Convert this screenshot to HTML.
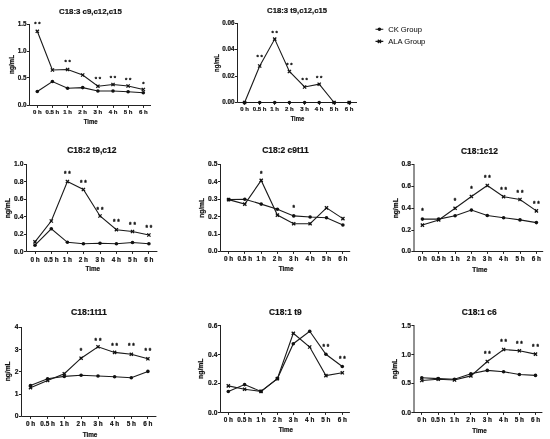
<!DOCTYPE html>
<html><head><meta charset="utf-8"><title>Fatty acid time course</title><style>
html,body{margin:0;padding:0;background:#fff;}
svg{display:block;}
text{font-family:"Liberation Sans", Arial, sans-serif;fill:#111;stroke:#111;stroke-width:0.2px;}
.b{font-weight:bold;}
.ax{stroke:#222;stroke-width:1.0;fill:none;}
.ln{stroke:#1a1a1a;stroke-width:1.1;fill:none;}
circle{fill:#111;}
.cx path{stroke:#111;stroke-width:1.3;fill:none;}
.lg{font-size:7.6px;stroke-width:0.05px;}
.st{font-weight:bold;stroke-width:0.3px;}
</style></head>
<body><svg width="550" height="439" viewBox="0 0 550 439">
<rect width="550" height="439" fill="#fff"/>
<g><path class="ax" d="M29.5 24V105.5H151"/>
<path class="ax" d="M26.9 105.5H29.5M26.9 77.5H29.5M26.9 51.5H29.5M26.9 24.5H29.5M37.5 105.5V107.9M52.5 105.5V107.9M67.5 105.5V107.9M82.5 105.5V107.9M97.5 105.5V107.9M113.5 105.5V107.9M128.5 105.5V107.9M143.5 105.5V107.9"/>
<text class="b" style="font-size:6.3px" x="26.4" y="106.95" text-anchor="end">0.0</text>
<text class="b" style="font-size:6.3px" x="26.4" y="79.75" text-anchor="end">0.5</text>
<text class="b" style="font-size:6.3px" x="26.4" y="53.15" text-anchor="end">1.0</text>
<text class="b" style="font-size:6.3px" x="26.4" y="26.25" text-anchor="end">1.5</text>
<text class="b" style="font-size:6.02px" x="37.3" y="113.97" text-anchor="middle">0 h</text>
<text class="b" style="font-size:6.02px" x="52.4" y="113.97" text-anchor="middle">0.5 h</text>
<text class="b" style="font-size:6.02px" x="67.6" y="113.97" text-anchor="middle">1 h</text>
<text class="b" style="font-size:6.02px" x="82.7" y="113.97" text-anchor="middle">2 h</text>
<text class="b" style="font-size:6.02px" x="97.9" y="113.97" text-anchor="middle">3 h</text>
<text class="b" style="font-size:6.02px" x="113" y="113.97" text-anchor="middle">4 h</text>
<text class="b" style="font-size:6.02px" x="128.1" y="113.97" text-anchor="middle">5 h</text>
<text class="b" style="font-size:6.02px" x="143.3" y="113.97" text-anchor="middle">6 h</text>
<polyline class="ln" points="37.3,91.5 52.4,81.5 67.6,88.2 82.7,87.6 97.9,91 113,91 128.1,91.8 143.3,92.7"/>
<polyline class="ln" points="37.3,31.3 52.4,70 67.6,69.5 82.7,75 97.9,86.2 113,84.5 128.1,86 143.3,89.5"/>
<circle cx="37.3" cy="91.5" r="1.8"/>
<circle cx="52.4" cy="81.5" r="1.8"/>
<circle cx="67.6" cy="88.2" r="1.8"/>
<circle cx="82.7" cy="87.6" r="1.8"/>
<circle cx="97.9" cy="91" r="1.8"/>
<circle cx="113" cy="91" r="1.8"/>
<circle cx="128.1" cy="91.8" r="1.8"/>
<circle cx="143.3" cy="92.7" r="1.8"/>
<g class="cx"><path d="M35.7 29.7L38.9 32.9M35.7 32.9L38.9 29.7"/><path d="M50.8 68.4L54 71.6M50.8 71.6L54 68.4"/><path d="M66 67.9L69.2 71.1M66 71.1L69.2 67.9"/><path d="M81.1 73.4L84.3 76.6M81.1 76.6L84.3 73.4"/><path d="M96.3 84.6L99.5 87.8M96.3 87.8L99.5 84.6"/><path d="M111.4 82.9L114.6 86.1M111.4 86.1L114.6 82.9"/><path d="M126.5 84.4L129.7 87.6M126.5 87.6L129.7 84.4"/><path d="M141.7 87.9L144.9 91.1M141.7 91.1L144.9 87.9"/></g>
<text class="st" style="font-size:5.92px;letter-spacing:1.74px" x="38.17" y="26.07" text-anchor="middle">**</text>
<text class="st" style="font-size:5.92px;letter-spacing:1.74px" x="68.47" y="64.47" text-anchor="middle">**</text>
<text class="st" style="font-size:5.92px;letter-spacing:1.74px" x="98.77" y="81.27" text-anchor="middle">**</text>
<text class="st" style="font-size:5.92px;letter-spacing:1.74px" x="113.87" y="79.87" text-anchor="middle">**</text>
<text class="st" style="font-size:5.92px;letter-spacing:1.74px" x="128.97" y="81.67" text-anchor="middle">**</text>
<text class="st" style="font-size:5.92px;letter-spacing:1.74px" x="144.17" y="86.17" text-anchor="middle">*</text>
<text class="b" style="font-size:7.7px" x="59.08" y="13.8" textLength="62.74" lengthAdjust="spacingAndGlyphs">C18:3 c9,c12,c15</text>
<text class="b" style="font-size:6.8px" x="83.73" y="123.6" textLength="13.87" lengthAdjust="spacingAndGlyphs">Time</text>
<g transform="translate(13.7 73.5) rotate(-90)"><text class="b" style="font-size:6.8px" x="-0.42" y="0" textLength="18.91" lengthAdjust="spacingAndGlyphs">ng/mL</text></g></g>
<g><path class="ax" d="M237.5 23V102.5H357"/>
<path class="ax" d="M234.9 102.5H237.5M234.9 76.5H237.5M234.9 49.5H237.5M234.9 23.5H237.5M244.5 102.5V104.9M259.5 102.5V104.9M274.5 102.5V104.9M289.5 102.5V104.9M304.5 102.5V104.9M319.5 102.5V104.9M334.5 102.5V104.9M349.5 102.5V104.9"/>
<text class="b" style="font-size:6.3px" x="234.4" y="104.45" text-anchor="end">0.00</text>
<text class="b" style="font-size:6.3px" x="234.4" y="77.95" text-anchor="end">0.02</text>
<text class="b" style="font-size:6.3px" x="234.4" y="51.45" text-anchor="end">0.04</text>
<text class="b" style="font-size:6.3px" x="234.4" y="25.25" text-anchor="end">0.06</text>
<text class="b" style="font-size:6.02px" x="244.6" y="111.37" text-anchor="middle">0 h</text>
<text class="b" style="font-size:6.02px" x="259.7" y="111.37" text-anchor="middle">0.5 h</text>
<text class="b" style="font-size:6.02px" x="274.7" y="111.37" text-anchor="middle">1 h</text>
<text class="b" style="font-size:6.02px" x="289.4" y="111.37" text-anchor="middle">2 h</text>
<text class="b" style="font-size:6.02px" x="304.6" y="111.37" text-anchor="middle">3 h</text>
<text class="b" style="font-size:6.02px" x="319.2" y="111.37" text-anchor="middle">4 h</text>
<text class="b" style="font-size:6.02px" x="334.1" y="111.37" text-anchor="middle">5 h</text>
<text class="b" style="font-size:6.02px" x="349.2" y="111.37" text-anchor="middle">6 h</text>
<polyline class="ln" points="244.6,102.5 259.7,102.5 274.7,102.5 289.4,102.5 304.6,102.5 319.2,102.5 334.1,102.5 349.2,102.5"/>
<polyline class="ln" points="244.6,102.5 259.7,66 274.7,39.1 289.4,71.5 304.6,87 319.2,84.2 334.1,102.5 349.2,102.5"/>
<circle cx="244.6" cy="102.5" r="1.8"/>
<circle cx="259.7" cy="102.5" r="1.8"/>
<circle cx="274.7" cy="102.5" r="1.8"/>
<circle cx="289.4" cy="102.5" r="1.8"/>
<circle cx="304.6" cy="102.5" r="1.8"/>
<circle cx="319.2" cy="102.5" r="1.8"/>
<circle cx="334.1" cy="102.5" r="1.8"/>
<circle cx="349.2" cy="102.5" r="1.8"/>
<g class="cx"><path d="M243 100.9L246.2 104.1M243 104.1L246.2 100.9"/><path d="M258.1 64.4L261.3 67.6M258.1 67.6L261.3 64.4"/><path d="M273.1 37.5L276.3 40.7M273.1 40.7L276.3 37.5"/><path d="M287.8 69.9L291 73.1M287.8 73.1L291 69.9"/><path d="M303 85.4L306.2 88.6M303 88.6L306.2 85.4"/><path d="M317.6 82.6L320.8 85.8M317.6 85.8L320.8 82.6"/><path d="M332.5 100.9L335.7 104.1M332.5 104.1L335.7 100.9"/><path d="M347.6 100.9L350.8 104.1M347.6 104.1L350.8 100.9"/></g>
<text class="st" style="font-size:5.92px;letter-spacing:1.74px" x="260.57" y="58.77" text-anchor="middle">**</text>
<text class="st" style="font-size:5.92px;letter-spacing:1.74px" x="275.57" y="34.77" text-anchor="middle">**</text>
<text class="st" style="font-size:5.92px;letter-spacing:1.74px" x="290.27" y="66.57" text-anchor="middle">**</text>
<text class="st" style="font-size:5.92px;letter-spacing:1.74px" x="305.47" y="82.27" text-anchor="middle">**</text>
<text class="st" style="font-size:5.92px;letter-spacing:1.74px" x="320.07" y="80.47" text-anchor="middle">**</text>
<text class="b" style="font-size:7.6px" x="267.08" y="12.8" textLength="59.93" lengthAdjust="spacingAndGlyphs">C18:3 t9,c12,c15</text>
<text class="b" style="font-size:6.6px" x="290.63" y="120.8" textLength="13.67" lengthAdjust="spacingAndGlyphs">Time</text>
<g transform="translate(219.1 71.5) rotate(-90)"><text class="b" style="font-size:6.6px" x="-0.39" y="0" textLength="17.88" lengthAdjust="spacingAndGlyphs">ng/mL</text></g></g>
<g><path class="ax" d="M26.5 164V251.5H157.4"/>
<path class="ax" d="M23.9 251.5H26.5M23.9 234.5H26.5M23.9 216.5H26.5M23.9 199.5H26.5M23.9 181.5H26.5M23.9 164.5H26.5M35.5 251.5V253.9M51.5 251.5V253.9M67.5 251.5V253.9M83.5 251.5V253.9M100.5 251.5V253.9M116.5 251.5V253.9M132.5 251.5V253.9M148.5 251.5V253.9"/>
<text class="b" style="font-size:6.7px" x="23.4" y="253.68" text-anchor="end">0.0</text>
<text class="b" style="font-size:6.7px" x="23.4" y="236.28" text-anchor="end">0.2</text>
<text class="b" style="font-size:6.7px" x="23.4" y="218.98" text-anchor="end">0.4</text>
<text class="b" style="font-size:6.7px" x="23.4" y="201.28" text-anchor="end">0.6</text>
<text class="b" style="font-size:6.7px" x="23.4" y="183.98" text-anchor="end">0.8</text>
<text class="b" style="font-size:6.7px" x="23.4" y="166.28" text-anchor="end">1.0</text>
<text class="b" style="font-size:6.4px" x="35" y="261.5" text-anchor="middle">0 h</text>
<text class="b" style="font-size:6.4px" x="51.3" y="261.5" text-anchor="middle">0.5 h</text>
<text class="b" style="font-size:6.4px" x="67.4" y="261.5" text-anchor="middle">1 h</text>
<text class="b" style="font-size:6.4px" x="83.4" y="261.5" text-anchor="middle">2 h</text>
<text class="b" style="font-size:6.4px" x="100" y="261.5" text-anchor="middle">3 h</text>
<text class="b" style="font-size:6.4px" x="116.4" y="261.5" text-anchor="middle">4 h</text>
<text class="b" style="font-size:6.4px" x="132.5" y="261.5" text-anchor="middle">5 h</text>
<text class="b" style="font-size:6.4px" x="148.9" y="261.5" text-anchor="middle">6 h</text>
<polyline class="ln" points="35,245.2 51.3,228.8 67.4,242.3 83.4,243.7 100,243.2 116.4,243.8 132.5,242.5 148.9,243.8"/>
<polyline class="ln" points="35,241.9 51.3,221 67.4,181.5 83.4,189.5 100,216 116.4,229.7 132.5,231.5 148.9,235"/>
<circle cx="35" cy="245.2" r="1.8"/>
<circle cx="51.3" cy="228.8" r="1.8"/>
<circle cx="67.4" cy="242.3" r="1.8"/>
<circle cx="83.4" cy="243.7" r="1.8"/>
<circle cx="100" cy="243.2" r="1.8"/>
<circle cx="116.4" cy="243.8" r="1.8"/>
<circle cx="132.5" cy="242.5" r="1.8"/>
<circle cx="148.9" cy="243.8" r="1.8"/>
<g class="cx"><path d="M33.4 240.3L36.6 243.5M33.4 243.5L36.6 240.3"/><path d="M49.7 219.4L52.9 222.6M49.7 222.6L52.9 219.4"/><path d="M65.8 179.9L69 183.1M65.8 183.1L69 179.9"/><path d="M81.8 187.9L85 191.1M81.8 191.1L85 187.9"/><path d="M98.4 214.4L101.6 217.6M98.4 217.6L101.6 214.4"/><path d="M114.8 228.1L118 231.3M114.8 231.3L118 228.1"/><path d="M130.9 229.9L134.1 233.1M130.9 233.1L134.1 229.9"/><path d="M147.3 233.4L150.5 236.6M147.3 236.6L150.5 233.4"/></g>
<text class="st" style="font-size:6.3px;letter-spacing:1.85px" x="68.32" y="176.46" text-anchor="middle">**</text>
<text class="st" style="font-size:6.3px;letter-spacing:1.85px" x="84.32" y="184.66" text-anchor="middle">**</text>
<text class="st" style="font-size:6.3px;letter-spacing:1.85px" x="100.92" y="211.56" text-anchor="middle">**</text>
<text class="st" style="font-size:6.3px;letter-spacing:1.85px" x="117.32" y="224.06" text-anchor="middle">**</text>
<text class="st" style="font-size:6.3px;letter-spacing:1.85px" x="133.42" y="226.86" text-anchor="middle">**</text>
<text class="st" style="font-size:6.3px;letter-spacing:1.85px" x="149.82" y="230.06" text-anchor="middle">**</text>
<text class="b" style="font-size:8.2px" x="67.15" y="153.4" textLength="49.28" lengthAdjust="spacingAndGlyphs">C18:2 t9,c12</text>
<text class="b" style="font-size:7px" x="85.43" y="271.4" textLength="14.58" lengthAdjust="spacingAndGlyphs">Time</text>
<g transform="translate(9.9 217.9) rotate(-90)"><text class="b" style="font-size:7.2px" x="-0.44" y="0" textLength="20.15" lengthAdjust="spacingAndGlyphs">ng/mL</text></g></g>
<g><path class="ax" d="M220.5 164V251.5H350.2"/>
<path class="ax" d="M217.9 251.5H220.5M217.9 234.5H220.5M217.9 216.5H220.5M217.9 199.5H220.5M217.9 181.5H220.5M217.9 164.5H220.5M228.5 251.5V253.9M244.5 251.5V253.9M261.5 251.5V253.9M277.5 251.5V253.9M293.5 251.5V253.9M310.5 251.5V253.9M326.5 251.5V253.9M342.5 251.5V253.9"/>
<text class="b" style="font-size:6.7px" x="217.4" y="253.38" text-anchor="end">0.0</text>
<text class="b" style="font-size:6.7px" x="217.4" y="236.08" text-anchor="end">0.1</text>
<text class="b" style="font-size:6.7px" x="217.4" y="218.78" text-anchor="end">0.2</text>
<text class="b" style="font-size:6.7px" x="217.4" y="201.28" text-anchor="end">0.3</text>
<text class="b" style="font-size:6.7px" x="217.4" y="183.98" text-anchor="end">0.4</text>
<text class="b" style="font-size:6.7px" x="217.4" y="166.28" text-anchor="end">0.5</text>
<text class="b" style="font-size:6.4px" x="228.6" y="261" text-anchor="middle">0 h</text>
<text class="b" style="font-size:6.4px" x="244.8" y="261" text-anchor="middle">0.5 h</text>
<text class="b" style="font-size:6.4px" x="261.2" y="261" text-anchor="middle">1 h</text>
<text class="b" style="font-size:6.4px" x="277.4" y="261" text-anchor="middle">2 h</text>
<text class="b" style="font-size:6.4px" x="293.7" y="261" text-anchor="middle">3 h</text>
<text class="b" style="font-size:6.4px" x="310.1" y="261" text-anchor="middle">4 h</text>
<text class="b" style="font-size:6.4px" x="326.5" y="261" text-anchor="middle">5 h</text>
<text class="b" style="font-size:6.4px" x="342.9" y="261" text-anchor="middle">6 h</text>
<polyline class="ln" points="228.6,199.6 244.8,199.2 261.2,204.1 277.4,209.3 293.7,215.9 310.1,217 326.5,217.7 342.9,225"/>
<polyline class="ln" points="228.6,199.6 244.8,204.1 261.2,180.4 277.4,215.1 293.7,223.7 310.1,223.7 326.5,207.9 342.9,218.6"/>
<circle cx="228.6" cy="199.6" r="1.8"/>
<circle cx="244.8" cy="199.2" r="1.8"/>
<circle cx="261.2" cy="204.1" r="1.8"/>
<circle cx="277.4" cy="209.3" r="1.8"/>
<circle cx="293.7" cy="215.9" r="1.8"/>
<circle cx="310.1" cy="217" r="1.8"/>
<circle cx="326.5" cy="217.7" r="1.8"/>
<circle cx="342.9" cy="225" r="1.8"/>
<g class="cx"><path d="M227 198L230.2 201.2M227 201.2L230.2 198"/><path d="M243.2 202.5L246.4 205.7M243.2 205.7L246.4 202.5"/><path d="M259.6 178.8L262.8 182M259.6 182L262.8 178.8"/><path d="M275.8 213.5L279 216.7M275.8 216.7L279 213.5"/><path d="M292.1 222.1L295.3 225.3M292.1 225.3L295.3 222.1"/><path d="M308.5 222.1L311.7 225.3M308.5 225.3L311.7 222.1"/><path d="M324.9 206.3L328.1 209.5M324.9 209.5L328.1 206.3"/><path d="M341.3 217L344.5 220.2M341.3 220.2L344.5 217"/></g>
<text class="st" style="font-size:6.3px;letter-spacing:1.85px" x="262.12" y="176.06" text-anchor="middle">*</text>
<text class="st" style="font-size:6.3px;letter-spacing:1.85px" x="294.62" y="210.06" text-anchor="middle">*</text>
<text class="b" style="font-size:8.2px" x="262.16" y="153.4" textLength="46.68" lengthAdjust="spacingAndGlyphs">C18:2 c9t11</text>
<text class="b" style="font-size:7px" x="278.83" y="271.4" textLength="14.69" lengthAdjust="spacingAndGlyphs">Time</text>
<g transform="translate(203.8 217.4) rotate(-90)"><text class="b" style="font-size:7.2px" x="-0.44" y="0" textLength="19.84" lengthAdjust="spacingAndGlyphs">ng/mL</text></g></g>
<g><path class="ax" d="M414 164V251.5H543.2"/>
<path class="ax" d="M411.4 251.5H414M411.4 230.5H414M411.4 208.5H414M411.4 186.5H414M411.4 164.5H414M422.5 251.5V253.9M438.5 251.5V253.9M455.5 251.5V253.9M471.5 251.5V253.9M487.5 251.5V253.9M503.5 251.5V253.9M520.5 251.5V253.9M536.5 251.5V253.9"/>
<text class="b" style="font-size:6.7px" x="410.9" y="253.38" text-anchor="end">0.0</text>
<text class="b" style="font-size:6.7px" x="410.9" y="232.08" text-anchor="end">0.2</text>
<text class="b" style="font-size:6.7px" x="410.9" y="210.28" text-anchor="end">0.4</text>
<text class="b" style="font-size:6.7px" x="410.9" y="188.48" text-anchor="end">0.6</text>
<text class="b" style="font-size:6.7px" x="410.9" y="166.28" text-anchor="end">0.8</text>
<text class="b" style="font-size:6.4px" x="422.4" y="260.9" text-anchor="middle">0 h</text>
<text class="b" style="font-size:6.4px" x="438.7" y="260.9" text-anchor="middle">0.5 h</text>
<text class="b" style="font-size:6.4px" x="455.1" y="260.9" text-anchor="middle">1 h</text>
<text class="b" style="font-size:6.4px" x="471.4" y="260.9" text-anchor="middle">2 h</text>
<text class="b" style="font-size:6.4px" x="487.3" y="260.9" text-anchor="middle">3 h</text>
<text class="b" style="font-size:6.4px" x="503.6" y="260.9" text-anchor="middle">4 h</text>
<text class="b" style="font-size:6.4px" x="520" y="260.9" text-anchor="middle">5 h</text>
<text class="b" style="font-size:6.4px" x="536.4" y="260.9" text-anchor="middle">6 h</text>
<polyline class="ln" points="422.4,219.1 438.7,219.1 455.1,215.8 471.4,210.1 487.3,215.5 503.6,217.7 520,219.9 536.4,222.6"/>
<polyline class="ln" points="422.4,225.1 438.7,219.9 455.1,208.3 471.4,196.5 487.3,185.5 503.6,196.7 520,199.5 536.4,210.9"/>
<circle cx="422.4" cy="219.1" r="1.8"/>
<circle cx="438.7" cy="219.1" r="1.8"/>
<circle cx="455.1" cy="215.8" r="1.8"/>
<circle cx="471.4" cy="210.1" r="1.8"/>
<circle cx="487.3" cy="215.5" r="1.8"/>
<circle cx="503.6" cy="217.7" r="1.8"/>
<circle cx="520" cy="219.9" r="1.8"/>
<circle cx="536.4" cy="222.6" r="1.8"/>
<g class="cx"><path d="M420.8 223.5L424 226.7M420.8 226.7L424 223.5"/><path d="M437.1 218.3L440.3 221.5M437.1 221.5L440.3 218.3"/><path d="M453.5 206.7L456.7 209.9M453.5 209.9L456.7 206.7"/><path d="M469.8 194.9L473 198.1M469.8 198.1L473 194.9"/><path d="M485.7 183.9L488.9 187.1M485.7 187.1L488.9 183.9"/><path d="M502 195.1L505.2 198.3M502 198.3L505.2 195.1"/><path d="M518.4 197.9L521.6 201.1M518.4 201.1L521.6 197.9"/><path d="M534.8 209.3L538 212.5M534.8 212.5L538 209.3"/></g>
<text class="st" style="font-size:6.3px;letter-spacing:1.85px" x="423.32" y="213.16" text-anchor="middle">*</text>
<text class="st" style="font-size:6.3px;letter-spacing:1.85px" x="456.02" y="203.16" text-anchor="middle">*</text>
<text class="st" style="font-size:6.3px;letter-spacing:1.85px" x="472.32" y="190.56" text-anchor="middle">*</text>
<text class="st" style="font-size:6.3px;letter-spacing:1.85px" x="488.22" y="180.26" text-anchor="middle">**</text>
<text class="st" style="font-size:6.3px;letter-spacing:1.85px" x="504.52" y="192.26" text-anchor="middle">**</text>
<text class="st" style="font-size:6.3px;letter-spacing:1.85px" x="520.92" y="195.16" text-anchor="middle">**</text>
<text class="st" style="font-size:6.3px;letter-spacing:1.85px" x="537.32" y="206.46" text-anchor="middle">**</text>
<text class="b" style="font-size:8.2px" x="460.95" y="153.6" textLength="36.98" lengthAdjust="spacingAndGlyphs">C18:1c12</text>
<text class="b" style="font-size:7px" x="472.33" y="271.6" textLength="14.99" lengthAdjust="spacingAndGlyphs">Time</text>
<g transform="translate(397.8 217.9) rotate(-90)"><text class="b" style="font-size:7.2px" x="-0.44" y="0" textLength="20.05" lengthAdjust="spacingAndGlyphs">ng/mL</text></g></g>
<g><path class="ax" d="M21.5 327V416.5H156.4"/>
<path class="ax" d="M18.9 416.5H21.5M18.9 394.5H21.5M18.9 371.5H21.5M18.9 349.5H21.5M18.9 327.5H21.5M30.5 416.5V418.9M47.5 416.5V418.9M64.5 416.5V418.9M81.5 416.5V418.9M98.5 416.5V418.9M114.5 416.5V418.9M131.5 416.5V418.9M147.5 416.5V418.9"/>
<text class="b" style="font-size:6.7px" x="18.4" y="418.18" text-anchor="end">0</text>
<text class="b" style="font-size:6.7px" x="18.4" y="396.18" text-anchor="end">1</text>
<text class="b" style="font-size:6.7px" x="18.4" y="373.98" text-anchor="end">2</text>
<text class="b" style="font-size:6.7px" x="18.4" y="351.58" text-anchor="end">3</text>
<text class="b" style="font-size:6.7px" x="18.4" y="329.38" text-anchor="end">4</text>
<text class="b" style="font-size:6.4px" x="30.5" y="425.8" text-anchor="middle">0 h</text>
<text class="b" style="font-size:6.4px" x="47.6" y="425.8" text-anchor="middle">0.5 h</text>
<text class="b" style="font-size:6.4px" x="64.3" y="425.8" text-anchor="middle">1 h</text>
<text class="b" style="font-size:6.4px" x="81.1" y="425.8" text-anchor="middle">2 h</text>
<text class="b" style="font-size:6.4px" x="98" y="425.8" text-anchor="middle">3 h</text>
<text class="b" style="font-size:6.4px" x="114.6" y="425.8" text-anchor="middle">4 h</text>
<text class="b" style="font-size:6.4px" x="131.3" y="425.8" text-anchor="middle">5 h</text>
<text class="b" style="font-size:6.4px" x="147.9" y="425.8" text-anchor="middle">6 h</text>
<polyline class="ln" points="30.5,385.5 47.6,378.8 64.3,376.4 81.1,375.2 98,376 114.6,376.8 131.3,377.8 147.9,371.4"/>
<polyline class="ln" points="30.5,387.7 47.6,380.4 64.3,373.7 81.1,358.2 98,346.8 114.6,352.4 131.3,354.3 147.9,358.8"/>
<circle cx="30.5" cy="385.5" r="1.8"/>
<circle cx="47.6" cy="378.8" r="1.8"/>
<circle cx="64.3" cy="376.4" r="1.8"/>
<circle cx="81.1" cy="375.2" r="1.8"/>
<circle cx="98" cy="376" r="1.8"/>
<circle cx="114.6" cy="376.8" r="1.8"/>
<circle cx="131.3" cy="377.8" r="1.8"/>
<circle cx="147.9" cy="371.4" r="1.8"/>
<g class="cx"><path d="M28.9 386.1L32.1 389.3M28.9 389.3L32.1 386.1"/><path d="M46 378.8L49.2 382M46 382L49.2 378.8"/><path d="M62.7 372.1L65.9 375.3M62.7 375.3L65.9 372.1"/><path d="M79.5 356.6L82.7 359.8M79.5 359.8L82.7 356.6"/><path d="M96.4 345.2L99.6 348.4M96.4 348.4L99.6 345.2"/><path d="M113 350.8L116.2 354M113 354L116.2 350.8"/><path d="M129.7 352.7L132.9 355.9M129.7 355.9L132.9 352.7"/><path d="M146.3 357.2L149.5 360.4M146.3 360.4L149.5 357.2"/></g>
<text class="st" style="font-size:6.3px;letter-spacing:1.85px" x="82.02" y="352.86" text-anchor="middle">*</text>
<text class="st" style="font-size:6.3px;letter-spacing:1.85px" x="98.92" y="342.96" text-anchor="middle">**</text>
<text class="st" style="font-size:6.3px;letter-spacing:1.85px" x="115.52" y="347.66" text-anchor="middle">**</text>
<text class="st" style="font-size:6.3px;letter-spacing:1.85px" x="132.22" y="347.66" text-anchor="middle">**</text>
<text class="st" style="font-size:6.3px;letter-spacing:1.85px" x="148.82" y="353.36" text-anchor="middle">**</text>
<text class="b" style="font-size:8.2px" x="70.95" y="315.2" textLength="35.79" lengthAdjust="spacingAndGlyphs">C18:1t11</text>
<text class="b" style="font-size:7px" x="82.63" y="436.5" textLength="14.79" lengthAdjust="spacingAndGlyphs">Time</text>
<g transform="translate(10.4 380.9) rotate(-90)"><text class="b" style="font-size:7.2px" x="-0.44" y="0" textLength="19.94" lengthAdjust="spacingAndGlyphs">ng/mL</text></g></g>
<g><path class="ax" d="M220.5 325V412.5H349.9"/>
<path class="ax" d="M217.9 412.5H220.5M217.9 383.5H220.5M217.9 354.5H220.5M217.9 325.5H220.5M228.5 412.5V414.9M244.5 412.5V414.9M261.5 412.5V414.9M277.5 412.5V414.9M293.5 412.5V414.9M309.5 412.5V414.9M325.5 412.5V414.9M342.5 412.5V414.9"/>
<text class="b" style="font-size:6.7px" x="217.4" y="414.58" text-anchor="end">0.0</text>
<text class="b" style="font-size:6.7px" x="217.4" y="385.48" text-anchor="end">0.2</text>
<text class="b" style="font-size:6.7px" x="217.4" y="356.68" text-anchor="end">0.4</text>
<text class="b" style="font-size:6.7px" x="217.4" y="327.98" text-anchor="end">0.6</text>
<text class="b" style="font-size:6.4px" x="228.3" y="422.2" text-anchor="middle">0 h</text>
<text class="b" style="font-size:6.4px" x="244.6" y="422.2" text-anchor="middle">0.5 h</text>
<text class="b" style="font-size:6.4px" x="261" y="422.2" text-anchor="middle">1 h</text>
<text class="b" style="font-size:6.4px" x="277.4" y="422.2" text-anchor="middle">2 h</text>
<text class="b" style="font-size:6.4px" x="293.3" y="422.2" text-anchor="middle">3 h</text>
<text class="b" style="font-size:6.4px" x="309.7" y="422.2" text-anchor="middle">4 h</text>
<text class="b" style="font-size:6.4px" x="325.9" y="422.2" text-anchor="middle">5 h</text>
<text class="b" style="font-size:6.4px" x="342.3" y="422.2" text-anchor="middle">6 h</text>
<polyline class="ln" points="228.3,391.5 244.6,384.6 261,391.4 277.4,378.6 293.3,343.7 309.7,331.3 325.9,354.3 342.3,366.5"/>
<polyline class="ln" points="228.3,385.9 244.6,389.2 261,391.4 277.4,378.6 293.3,333.3 309.7,347 325.9,375.6 342.3,372.8"/>
<circle cx="228.3" cy="391.5" r="1.8"/>
<circle cx="244.6" cy="384.6" r="1.8"/>
<circle cx="261" cy="391.4" r="1.8"/>
<circle cx="277.4" cy="378.6" r="1.8"/>
<circle cx="293.3" cy="343.7" r="1.8"/>
<circle cx="309.7" cy="331.3" r="1.8"/>
<circle cx="325.9" cy="354.3" r="1.8"/>
<circle cx="342.3" cy="366.5" r="1.8"/>
<g class="cx"><path d="M226.7 384.3L229.9 387.5M226.7 387.5L229.9 384.3"/><path d="M243 387.6L246.2 390.8M243 390.8L246.2 387.6"/><path d="M259.4 389.8L262.6 393M259.4 393L262.6 389.8"/><path d="M275.8 377L279 380.2M275.8 380.2L279 377"/><path d="M291.7 331.7L294.9 334.9M291.7 334.9L294.9 331.7"/><path d="M308.1 345.4L311.3 348.6M308.1 348.6L311.3 345.4"/><path d="M324.3 374L327.5 377.2M324.3 377.2L327.5 374"/><path d="M340.7 371.2L343.9 374.4M340.7 374.4L343.9 371.2"/></g>
<text class="st" style="font-size:6.3px;letter-spacing:1.85px" x="326.82" y="348.86" text-anchor="middle">**</text>
<text class="st" style="font-size:6.3px;letter-spacing:1.85px" x="343.22" y="360.66" text-anchor="middle">**</text>
<text class="b" style="font-size:8.2px" x="268.96" y="314.8" textLength="32.66" lengthAdjust="spacingAndGlyphs">C18:1 t9</text>
<text class="b" style="font-size:7px" x="278.63" y="432.4" textLength="14.38" lengthAdjust="spacingAndGlyphs">Time</text>
<g transform="translate(203.4 378.5) rotate(-90)"><text class="b" style="font-size:7.2px" x="-0.45" y="0" textLength="20.46" lengthAdjust="spacingAndGlyphs">ng/mL</text></g></g>
<g><path class="ax" d="M414 325V412.5H542.4"/>
<path class="ax" d="M411.4 412.5H414M411.4 383.5H414M411.4 354.5H414M411.4 325.5H414M421.5 412.5V414.9M438.5 412.5V414.9M454.5 412.5V414.9M470.5 412.5V414.9M487.5 412.5V414.9M503.5 412.5V414.9M519.5 412.5V414.9M535.5 412.5V414.9"/>
<text class="b" style="font-size:6.7px" x="410.9" y="414.68" text-anchor="end">0.0</text>
<text class="b" style="font-size:6.7px" x="410.9" y="385.38" text-anchor="end">0.5</text>
<text class="b" style="font-size:6.7px" x="410.9" y="356.68" text-anchor="end">1.0</text>
<text class="b" style="font-size:6.7px" x="410.9" y="327.78" text-anchor="end">1.5</text>
<text class="b" style="font-size:6.4px" x="421.8" y="421.8" text-anchor="middle">0 h</text>
<text class="b" style="font-size:6.4px" x="438.2" y="421.8" text-anchor="middle">0.5 h</text>
<text class="b" style="font-size:6.4px" x="454.5" y="421.8" text-anchor="middle">1 h</text>
<text class="b" style="font-size:6.4px" x="470.9" y="421.8" text-anchor="middle">2 h</text>
<text class="b" style="font-size:6.4px" x="487.3" y="421.8" text-anchor="middle">3 h</text>
<text class="b" style="font-size:6.4px" x="503.6" y="421.8" text-anchor="middle">4 h</text>
<text class="b" style="font-size:6.4px" x="519.4" y="421.8" text-anchor="middle">5 h</text>
<text class="b" style="font-size:6.4px" x="535.5" y="421.8" text-anchor="middle">6 h</text>
<polyline class="ln" points="421.8,377.8 438.2,378.6 454.5,379.2 470.9,373.7 487.3,370.4 503.6,371.8 519.4,374.5 535.5,375.4"/>
<polyline class="ln" points="421.8,380.5 438.2,379.2 454.5,380 470.9,375.9 487.3,361.5 503.6,349.5 519.4,350.8 535.5,354.1"/>
<circle cx="421.8" cy="377.8" r="1.8"/>
<circle cx="438.2" cy="378.6" r="1.8"/>
<circle cx="454.5" cy="379.2" r="1.8"/>
<circle cx="470.9" cy="373.7" r="1.8"/>
<circle cx="487.3" cy="370.4" r="1.8"/>
<circle cx="503.6" cy="371.8" r="1.8"/>
<circle cx="519.4" cy="374.5" r="1.8"/>
<circle cx="535.5" cy="375.4" r="1.8"/>
<g class="cx"><path d="M420.2 378.9L423.4 382.1M420.2 382.1L423.4 378.9"/><path d="M436.6 377.6L439.8 380.8M436.6 380.8L439.8 377.6"/><path d="M452.9 378.4L456.1 381.6M452.9 381.6L456.1 378.4"/><path d="M469.3 374.3L472.5 377.5M469.3 377.5L472.5 374.3"/><path d="M485.7 359.9L488.9 363.1M485.7 363.1L488.9 359.9"/><path d="M502 347.9L505.2 351.1M502 351.1L505.2 347.9"/><path d="M517.8 349.2L521 352.4M517.8 352.4L521 349.2"/><path d="M533.9 352.5L537.1 355.7M533.9 355.7L537.1 352.5"/></g>
<text class="st" style="font-size:6.3px;letter-spacing:1.85px" x="488.22" y="356.36" text-anchor="middle">**</text>
<text class="st" style="font-size:6.3px;letter-spacing:1.85px" x="504.52" y="344.36" text-anchor="middle">**</text>
<text class="st" style="font-size:6.3px;letter-spacing:1.85px" x="520.32" y="345.86" text-anchor="middle">**</text>
<text class="st" style="font-size:6.3px;letter-spacing:1.85px" x="536.42" y="349.26" text-anchor="middle">**</text>
<text class="b" style="font-size:8.2px" x="461.85" y="314.8" textLength="34.75" lengthAdjust="spacingAndGlyphs">C18:1 c6</text>
<text class="b" style="font-size:7px" x="472.23" y="432.5" textLength="14.58" lengthAdjust="spacingAndGlyphs">Time</text>
<g transform="translate(397.2 378.5) rotate(-90)"><text class="b" style="font-size:7.2px" x="-0.44" y="0" textLength="20.15" lengthAdjust="spacingAndGlyphs">ng/mL</text></g></g>
<g>
<path class="ln" d="M375.5 29.2H383.3M375.5 41.4H383.3"/>
<circle cx="379.4" cy="29.2" r="1.8"/>
<g class="cx"><path d="M377.8 39.8L381 43M377.8 43L381 39.8"/></g>
<text class="lg" x="388.2" y="32.2">CK Group</text>
<text class="lg" x="388.2" y="44.4">ALA Group</text>
</g>
</svg></body></html>
